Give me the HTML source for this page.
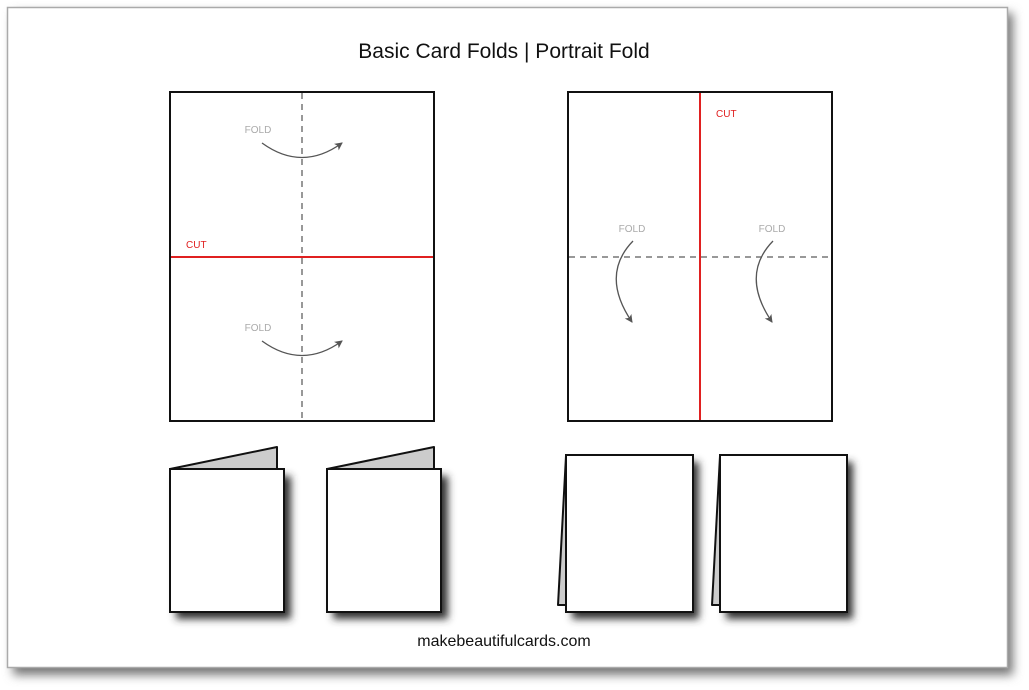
<!DOCTYPE html>
<html><head><style>
body{margin:0;background:#fff;width:1029px;height:690px;overflow:hidden}
svg{display:block;font-family:"Liberation Sans",sans-serif}
</style></head><body>
<svg width="1029" height="690" viewBox="0 0 1029 690">
<defs>
<filter id="sh" x="-20%" y="-20%" width="150%" height="150%"><feGaussianBlur stdDeviation="4"/></filter>
<filter id="sh2" x="-5%" y="-5%" width="115%" height="115%"><feGaussianBlur stdDeviation="5"/></filter>
<marker id="ah" markerWidth="10" markerHeight="10" refX="7" refY="4" orient="auto" markerUnits="userSpaceOnUse"><path d="M0,0 L8,4 L0,8 L2,4 Z" fill="#555"/></marker>
</defs>
<rect x="13" y="13" width="1000" height="662" fill="#777" filter="url(#sh2)"/>
<rect x="7.5" y="7.5" width="1000" height="660" fill="#fff" stroke="#aaa" stroke-width="1.5"/>
<text x="504" y="58" font-size="21" text-anchor="middle" fill="#111">Basic Card Folds | Portrait Fold</text>
<!-- left big -->
<rect x="170" y="92" width="264" height="329" fill="#fff" stroke="#111" stroke-width="2"/>
<line x1="302" y1="93" x2="302" y2="420" stroke="#777" stroke-width="1.5" stroke-dasharray="6,5"/>
<line x1="171" y1="257" x2="433" y2="257" stroke="#e02020" stroke-width="2"/>
<text x="186" y="248" font-size="10" fill="#e02020">CUT</text>
<text x="258" y="133" font-size="10" fill="#aaa" text-anchor="middle">FOLD</text>
<path d="M262,143 Q302,172 342,143" fill="none" stroke="#555" stroke-width="1.3" marker-end="url(#ah)"/>
<text x="258" y="331" font-size="10" fill="#aaa" text-anchor="middle">FOLD</text>
<path d="M262,341 Q302,370 342,341" fill="none" stroke="#555" stroke-width="1.3" marker-end="url(#ah)"/>
<!-- right big -->
<rect x="568" y="92" width="264" height="329" fill="#fff" stroke="#111" stroke-width="2"/>
<line x1="569" y1="257" x2="831" y2="257" stroke="#777" stroke-width="1.5" stroke-dasharray="6,5"/>
<line x1="700" y1="93" x2="700" y2="420" stroke="#e02020" stroke-width="2"/>
<text x="716" y="117" font-size="10" fill="#e02020">CUT</text>
<text x="632" y="232" font-size="10" fill="#aaa" text-anchor="middle">FOLD</text>
<path d="M633,241 Q600,275 632,322" fill="none" stroke="#555" stroke-width="1.3" marker-end="url(#ah)"/>
<text x="772" y="232" font-size="10" fill="#aaa" text-anchor="middle">FOLD</text>
<path d="M773,241 Q740,275 772,322" fill="none" stroke="#555" stroke-width="1.3" marker-end="url(#ah)"/>
<!-- small cards left -->
<g>
<rect x="176" y="476" width="115" height="143" fill="#333" filter="url(#sh)"/>
<path d="M170,469 L277,447 L277,469 Z" fill="#ccc" stroke="#111" stroke-width="2" stroke-linejoin="round"/>
<rect x="170" y="469" width="114" height="143" fill="#fff" stroke="#111" stroke-width="2"/>
</g>
<g>
<rect x="333" y="476" width="115" height="143" fill="#333" filter="url(#sh)"/>
<path d="M327,469 L434,447 L434,469 Z" fill="#ccc" stroke="#111" stroke-width="2" stroke-linejoin="round"/>
<rect x="327" y="469" width="114" height="143" fill="#fff" stroke="#111" stroke-width="2"/>
</g>
<!-- small cards right -->
<g>
<rect x="572" y="462" width="127" height="157" fill="#333" filter="url(#sh)"/>
<path d="M566,456 L558,605 L566,605 Z" fill="#ccc" stroke="#111" stroke-width="2" stroke-linejoin="round"/>
<rect x="566" y="455" width="127" height="157" fill="#fff" stroke="#111" stroke-width="2"/>
</g>
<g>
<rect x="726" y="462" width="127" height="157" fill="#333" filter="url(#sh)"/>
<path d="M720,456 L712,605 L720,605 Z" fill="#ccc" stroke="#111" stroke-width="2" stroke-linejoin="round"/>
<rect x="720" y="455" width="127" height="157" fill="#fff" stroke="#111" stroke-width="2"/>
</g>
<text x="504" y="646" font-size="16" text-anchor="middle" fill="#111">makebeautifulcards.com</text>
</svg>
</body></html>
